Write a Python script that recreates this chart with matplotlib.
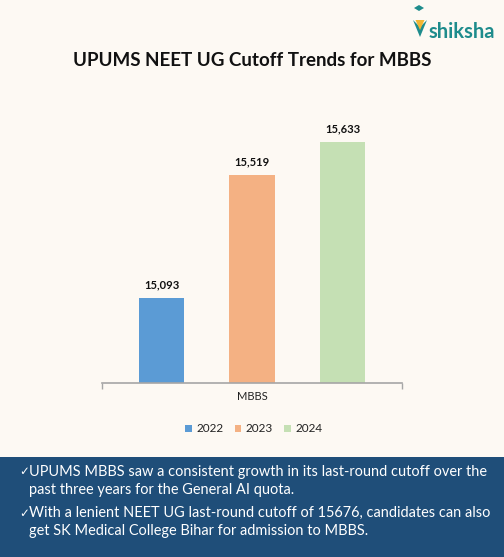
import matplotlib
matplotlib.use("Agg")
import matplotlib.pyplot as plt
from matplotlib.patches import Rectangle, Polygon

# ---- data ----
category = "MBBS"
years = ["2022", "2023", "2024"]
values = [15093, 15519, 15633]
colors = ["#5B9BD5", "#F4B183", "#C5E0B4"]
title = "UPUMS NEET UG Cutoff Trends for MBBS"
notes = [
    ["UPUMS MBBS saw a consistent growth in its last-round cutoff over the",
     "past three years for the General AI quota."],
    ["With a lenient NEET UG last-round cutoff of 15676, candidates can also",
     "get SK Medical College Bihar for admission to MBBS."],
]

FONT = "Lato"
BG = "#FDF9F3"
W, H = 504, 557
fig = plt.figure(figsize=(W / 100, H / 100), dpi=100, facecolor=BG)

def fx(px):
    return px / W

def fy(py):
    return 1 - py / H

# title
fig.text(fx(252), fy(61), title, ha="center", va="center", fontsize=13.5,
         fontweight="bold", family=FONT, color="#111111")

# logo
fig.text(fx(429), fy(32), "shiksha", ha="left", va="center", fontsize=14.5,
         fontweight="bold", family=FONT, color="#1E8C8C")
fig.patches.append(Polygon([[fx(413), fy(20)], [fx(420), fy(37)], [fx(427), fy(20)],
                            [fx(420), fy(27)]], closed=True, transform=fig.transFigure,
                           facecolor="#1E8C8C", edgecolor="none"))
fig.patches.append(Polygon([[fx(415.5), fy(20)], [fx(420), fy(30)], [fx(424.5), fy(20)]],
                           closed=True, transform=fig.transFigure,
                           facecolor="#F2B632", edgecolor="none"))
fig.patches.append(Polygon([[fx(414), fy(8)], [fx(419), fy(5)], [fx(424), fy(8)],
                            [fx(419), fy(11)]], closed=True, transform=fig.transFigure,
                           facecolor="#1E8C8C", edgecolor="none"))

# axes
ax = fig.add_axes([fx(102), fy(383), (402 - 102) / W, (383 - 123) / H])
ax.set_facecolor(BG)
spacing = 1.0
xs = [(i - 1) * spacing for i in range(len(values))]
bars = ax.bar(xs, [v - 14800 for v in values], bottom=14800, width=0.503,
              color=colors, label=years, zorder=2)
ax.set_xlim(-1.657, 1.657)
ax.set_ylim(14800, 15700)
for x, v in zip(xs, values):
    ax.annotate(f"{v:,}", (x, v), xytext=(0, 6), textcoords="offset points",
                ha="center", va="bottom", fontsize=8, fontweight="bold",
                family=FONT, color="#111111")
for s in ["top", "right", "left"]:
    ax.spines[s].set_visible(False)
ax.spines["bottom"].set_color("#A6A6A6")
ax.spines["bottom"].set_linewidth(1.2)
ax.set_yticks([])
ax.set_xticks([-1.657, 1.657])
ax.set_xticklabels(["", ""])
ax.tick_params(axis="x", length=4, color="#A6A6A6", width=1)
fig.text(fx(252), fy(397), category, ha="center", va="center", fontsize=8,
         family=FONT, color="#222222")

leg = fig.legend(handles=bars, labels=years, loc="center", bbox_to_anchor=(fx(254), fy(429)),
                 ncol=3, frameon=False,
                 prop={"family": FONT, "size": 8.5}, handlelength=0.55, handleheight=0.55,
                 handletextpad=0.4, columnspacing=0.95, borderpad=0.2)
for t in leg.get_texts():
    t.set_color("#222222")

# bottom box
fig.patches.append(Rectangle((0, 0), 1, (H - 457) / H, transform=fig.transFigure,
                             facecolor="#1F4E79", edgecolor="none", zorder=0))
line_y = [[472, 490], [513, 531]]
for note, ys in zip(notes, line_y):
    fig.text(fx(19), fy(ys[0]), "\u2713", ha="left", va="center", fontsize=8.5,
             family="DejaVu Sans", color="white")
    for line, y in zip(note, ys):
        fig.text(fx(29), fy(y), line, ha="left", va="center", fontsize=10.45,
                 family=FONT, color="white")

fig.savefig("out.png", dpi=100, facecolor=BG)
